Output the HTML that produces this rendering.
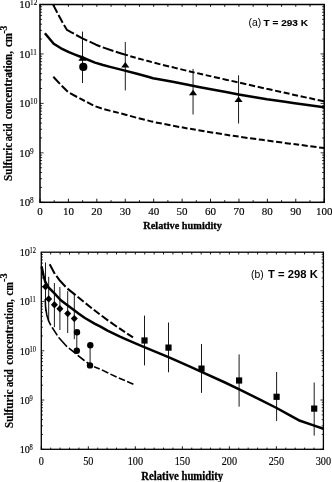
<!DOCTYPE html>
<html><head><meta charset="utf-8"><title>Figure</title>
<style>html,body{margin:0;padding:0;background:#fff}svg{display:block}</style></head>
<body>
<svg width="332" height="482" viewBox="0 0 332 482">
<rect width="332" height="482" fill="#fff"/>
<rect x="40" y="4.5" width="284.2" height="197.8" fill="none" stroke="#000" stroke-width="1.5"/>
<line x1="40.00" y1="202.3" x2="40.00" y2="198.70000000000002" stroke="#000" stroke-width="0.9"/>
<line x1="40.00" y1="4.5" x2="40.00" y2="6.8" stroke="#000" stroke-width="0.9"/>
<line x1="54.21" y1="202.3" x2="54.21" y2="200.20000000000002" stroke="#000" stroke-width="0.9"/>
<line x1="54.21" y1="4.5" x2="54.21" y2="6.8" stroke="#000" stroke-width="0.9"/>
<line x1="68.42" y1="202.3" x2="68.42" y2="198.70000000000002" stroke="#000" stroke-width="0.9"/>
<line x1="68.42" y1="4.5" x2="68.42" y2="6.8" stroke="#000" stroke-width="0.9"/>
<line x1="82.63" y1="202.3" x2="82.63" y2="200.20000000000002" stroke="#000" stroke-width="0.9"/>
<line x1="82.63" y1="4.5" x2="82.63" y2="6.8" stroke="#000" stroke-width="0.9"/>
<line x1="96.84" y1="202.3" x2="96.84" y2="198.70000000000002" stroke="#000" stroke-width="0.9"/>
<line x1="96.84" y1="4.5" x2="96.84" y2="6.8" stroke="#000" stroke-width="0.9"/>
<line x1="111.05" y1="202.3" x2="111.05" y2="200.20000000000002" stroke="#000" stroke-width="0.9"/>
<line x1="111.05" y1="4.5" x2="111.05" y2="6.8" stroke="#000" stroke-width="0.9"/>
<line x1="125.26" y1="202.3" x2="125.26" y2="198.70000000000002" stroke="#000" stroke-width="0.9"/>
<line x1="125.26" y1="4.5" x2="125.26" y2="6.8" stroke="#000" stroke-width="0.9"/>
<line x1="139.47" y1="202.3" x2="139.47" y2="200.20000000000002" stroke="#000" stroke-width="0.9"/>
<line x1="139.47" y1="4.5" x2="139.47" y2="6.8" stroke="#000" stroke-width="0.9"/>
<line x1="153.68" y1="202.3" x2="153.68" y2="198.70000000000002" stroke="#000" stroke-width="0.9"/>
<line x1="153.68" y1="4.5" x2="153.68" y2="6.8" stroke="#000" stroke-width="0.9"/>
<line x1="167.89" y1="202.3" x2="167.89" y2="200.20000000000002" stroke="#000" stroke-width="0.9"/>
<line x1="167.89" y1="4.5" x2="167.89" y2="6.8" stroke="#000" stroke-width="0.9"/>
<line x1="182.10" y1="202.3" x2="182.10" y2="198.70000000000002" stroke="#000" stroke-width="0.9"/>
<line x1="182.10" y1="4.5" x2="182.10" y2="6.8" stroke="#000" stroke-width="0.9"/>
<line x1="196.31" y1="202.3" x2="196.31" y2="200.20000000000002" stroke="#000" stroke-width="0.9"/>
<line x1="196.31" y1="4.5" x2="196.31" y2="6.8" stroke="#000" stroke-width="0.9"/>
<line x1="210.52" y1="202.3" x2="210.52" y2="198.70000000000002" stroke="#000" stroke-width="0.9"/>
<line x1="210.52" y1="4.5" x2="210.52" y2="6.8" stroke="#000" stroke-width="0.9"/>
<line x1="224.73" y1="202.3" x2="224.73" y2="200.20000000000002" stroke="#000" stroke-width="0.9"/>
<line x1="224.73" y1="4.5" x2="224.73" y2="6.8" stroke="#000" stroke-width="0.9"/>
<line x1="238.94" y1="202.3" x2="238.94" y2="198.70000000000002" stroke="#000" stroke-width="0.9"/>
<line x1="238.94" y1="4.5" x2="238.94" y2="6.8" stroke="#000" stroke-width="0.9"/>
<line x1="253.15" y1="202.3" x2="253.15" y2="200.20000000000002" stroke="#000" stroke-width="0.9"/>
<line x1="253.15" y1="4.5" x2="253.15" y2="6.8" stroke="#000" stroke-width="0.9"/>
<line x1="267.36" y1="202.3" x2="267.36" y2="198.70000000000002" stroke="#000" stroke-width="0.9"/>
<line x1="267.36" y1="4.5" x2="267.36" y2="6.8" stroke="#000" stroke-width="0.9"/>
<line x1="281.57" y1="202.3" x2="281.57" y2="200.20000000000002" stroke="#000" stroke-width="0.9"/>
<line x1="281.57" y1="4.5" x2="281.57" y2="6.8" stroke="#000" stroke-width="0.9"/>
<line x1="295.78" y1="202.3" x2="295.78" y2="198.70000000000002" stroke="#000" stroke-width="0.9"/>
<line x1="295.78" y1="4.5" x2="295.78" y2="6.8" stroke="#000" stroke-width="0.9"/>
<line x1="309.99" y1="202.3" x2="309.99" y2="200.20000000000002" stroke="#000" stroke-width="0.9"/>
<line x1="309.99" y1="4.5" x2="309.99" y2="6.8" stroke="#000" stroke-width="0.9"/>
<line x1="324.20" y1="202.3" x2="324.20" y2="198.70000000000002" stroke="#000" stroke-width="0.9"/>
<line x1="324.20" y1="4.5" x2="324.20" y2="6.8" stroke="#000" stroke-width="0.9"/>
<text transform="translate(40.00,215.0) scale(1.0,1)" font-family='"Liberation Serif", serif' font-size="11" text-anchor="middle" stroke="#000" stroke-width="0.15">0</text>
<text transform="translate(68.42,215.0) scale(1.0,1)" font-family='"Liberation Serif", serif' font-size="11" text-anchor="middle" stroke="#000" stroke-width="0.15">10</text>
<text transform="translate(96.84,215.0) scale(1.0,1)" font-family='"Liberation Serif", serif' font-size="11" text-anchor="middle" stroke="#000" stroke-width="0.15">20</text>
<text transform="translate(125.26,215.0) scale(1.0,1)" font-family='"Liberation Serif", serif' font-size="11" text-anchor="middle" stroke="#000" stroke-width="0.15">30</text>
<text transform="translate(153.68,215.0) scale(1.0,1)" font-family='"Liberation Serif", serif' font-size="11" text-anchor="middle" stroke="#000" stroke-width="0.15">40</text>
<text transform="translate(182.10,215.0) scale(1.0,1)" font-family='"Liberation Serif", serif' font-size="11" text-anchor="middle" stroke="#000" stroke-width="0.15">50</text>
<text transform="translate(210.52,215.0) scale(1.0,1)" font-family='"Liberation Serif", serif' font-size="11" text-anchor="middle" stroke="#000" stroke-width="0.15">60</text>
<text transform="translate(238.94,215.0) scale(1.0,1)" font-family='"Liberation Serif", serif' font-size="11" text-anchor="middle" stroke="#000" stroke-width="0.15">70</text>
<text transform="translate(267.36,215.0) scale(1.0,1)" font-family='"Liberation Serif", serif' font-size="11" text-anchor="middle" stroke="#000" stroke-width="0.15">80</text>
<text transform="translate(295.78,215.0) scale(1.0,1)" font-family='"Liberation Serif", serif' font-size="11" text-anchor="middle" stroke="#000" stroke-width="0.15">90</text>
<text transform="translate(324.20,215.0) scale(1.0,1)" font-family='"Liberation Serif", serif' font-size="11" text-anchor="middle" stroke="#000" stroke-width="0.15">100</text>
<line x1="40" y1="202.30" x2="43.6" y2="202.30" stroke="#000" stroke-width="0.8"/>
<line x1="324.2" y1="202.30" x2="320.59999999999997" y2="202.30" stroke="#000" stroke-width="0.8"/>
<line x1="40" y1="187.41" x2="42.1" y2="187.41" stroke="#000" stroke-width="0.8"/>
<line x1="324.2" y1="187.41" x2="322.09999999999997" y2="187.41" stroke="#000" stroke-width="0.8"/>
<line x1="40" y1="178.71" x2="42.1" y2="178.71" stroke="#000" stroke-width="0.8"/>
<line x1="324.2" y1="178.71" x2="322.09999999999997" y2="178.71" stroke="#000" stroke-width="0.8"/>
<line x1="40" y1="172.53" x2="42.1" y2="172.53" stroke="#000" stroke-width="0.8"/>
<line x1="324.2" y1="172.53" x2="322.09999999999997" y2="172.53" stroke="#000" stroke-width="0.8"/>
<line x1="40" y1="167.74" x2="42.1" y2="167.74" stroke="#000" stroke-width="0.8"/>
<line x1="324.2" y1="167.74" x2="322.09999999999997" y2="167.74" stroke="#000" stroke-width="0.8"/>
<line x1="40" y1="163.82" x2="42.1" y2="163.82" stroke="#000" stroke-width="0.8"/>
<line x1="324.2" y1="163.82" x2="322.09999999999997" y2="163.82" stroke="#000" stroke-width="0.8"/>
<line x1="40" y1="160.51" x2="42.1" y2="160.51" stroke="#000" stroke-width="0.8"/>
<line x1="324.2" y1="160.51" x2="322.09999999999997" y2="160.51" stroke="#000" stroke-width="0.8"/>
<line x1="40" y1="157.64" x2="42.1" y2="157.64" stroke="#000" stroke-width="0.8"/>
<line x1="324.2" y1="157.64" x2="322.09999999999997" y2="157.64" stroke="#000" stroke-width="0.8"/>
<line x1="40" y1="155.11" x2="42.1" y2="155.11" stroke="#000" stroke-width="0.8"/>
<line x1="324.2" y1="155.11" x2="322.09999999999997" y2="155.11" stroke="#000" stroke-width="0.8"/>
<line x1="40" y1="152.85" x2="43.6" y2="152.85" stroke="#000" stroke-width="0.8"/>
<line x1="324.2" y1="152.85" x2="320.59999999999997" y2="152.85" stroke="#000" stroke-width="0.8"/>
<line x1="40" y1="137.96" x2="42.1" y2="137.96" stroke="#000" stroke-width="0.8"/>
<line x1="324.2" y1="137.96" x2="322.09999999999997" y2="137.96" stroke="#000" stroke-width="0.8"/>
<line x1="40" y1="129.26" x2="42.1" y2="129.26" stroke="#000" stroke-width="0.8"/>
<line x1="324.2" y1="129.26" x2="322.09999999999997" y2="129.26" stroke="#000" stroke-width="0.8"/>
<line x1="40" y1="123.08" x2="42.1" y2="123.08" stroke="#000" stroke-width="0.8"/>
<line x1="324.2" y1="123.08" x2="322.09999999999997" y2="123.08" stroke="#000" stroke-width="0.8"/>
<line x1="40" y1="118.29" x2="42.1" y2="118.29" stroke="#000" stroke-width="0.8"/>
<line x1="324.2" y1="118.29" x2="322.09999999999997" y2="118.29" stroke="#000" stroke-width="0.8"/>
<line x1="40" y1="114.37" x2="42.1" y2="114.37" stroke="#000" stroke-width="0.8"/>
<line x1="324.2" y1="114.37" x2="322.09999999999997" y2="114.37" stroke="#000" stroke-width="0.8"/>
<line x1="40" y1="111.06" x2="42.1" y2="111.06" stroke="#000" stroke-width="0.8"/>
<line x1="324.2" y1="111.06" x2="322.09999999999997" y2="111.06" stroke="#000" stroke-width="0.8"/>
<line x1="40" y1="108.19" x2="42.1" y2="108.19" stroke="#000" stroke-width="0.8"/>
<line x1="324.2" y1="108.19" x2="322.09999999999997" y2="108.19" stroke="#000" stroke-width="0.8"/>
<line x1="40" y1="105.66" x2="42.1" y2="105.66" stroke="#000" stroke-width="0.8"/>
<line x1="324.2" y1="105.66" x2="322.09999999999997" y2="105.66" stroke="#000" stroke-width="0.8"/>
<line x1="40" y1="103.40" x2="43.6" y2="103.40" stroke="#000" stroke-width="0.8"/>
<line x1="324.2" y1="103.40" x2="320.59999999999997" y2="103.40" stroke="#000" stroke-width="0.8"/>
<line x1="40" y1="88.51" x2="42.1" y2="88.51" stroke="#000" stroke-width="0.8"/>
<line x1="324.2" y1="88.51" x2="322.09999999999997" y2="88.51" stroke="#000" stroke-width="0.8"/>
<line x1="40" y1="79.81" x2="42.1" y2="79.81" stroke="#000" stroke-width="0.8"/>
<line x1="324.2" y1="79.81" x2="322.09999999999997" y2="79.81" stroke="#000" stroke-width="0.8"/>
<line x1="40" y1="73.63" x2="42.1" y2="73.63" stroke="#000" stroke-width="0.8"/>
<line x1="324.2" y1="73.63" x2="322.09999999999997" y2="73.63" stroke="#000" stroke-width="0.8"/>
<line x1="40" y1="68.84" x2="42.1" y2="68.84" stroke="#000" stroke-width="0.8"/>
<line x1="324.2" y1="68.84" x2="322.09999999999997" y2="68.84" stroke="#000" stroke-width="0.8"/>
<line x1="40" y1="64.92" x2="42.1" y2="64.92" stroke="#000" stroke-width="0.8"/>
<line x1="324.2" y1="64.92" x2="322.09999999999997" y2="64.92" stroke="#000" stroke-width="0.8"/>
<line x1="40" y1="61.61" x2="42.1" y2="61.61" stroke="#000" stroke-width="0.8"/>
<line x1="324.2" y1="61.61" x2="322.09999999999997" y2="61.61" stroke="#000" stroke-width="0.8"/>
<line x1="40" y1="58.74" x2="42.1" y2="58.74" stroke="#000" stroke-width="0.8"/>
<line x1="324.2" y1="58.74" x2="322.09999999999997" y2="58.74" stroke="#000" stroke-width="0.8"/>
<line x1="40" y1="56.21" x2="42.1" y2="56.21" stroke="#000" stroke-width="0.8"/>
<line x1="324.2" y1="56.21" x2="322.09999999999997" y2="56.21" stroke="#000" stroke-width="0.8"/>
<line x1="40" y1="53.95" x2="43.6" y2="53.95" stroke="#000" stroke-width="0.8"/>
<line x1="324.2" y1="53.95" x2="320.59999999999997" y2="53.95" stroke="#000" stroke-width="0.8"/>
<line x1="40" y1="39.06" x2="42.1" y2="39.06" stroke="#000" stroke-width="0.8"/>
<line x1="324.2" y1="39.06" x2="322.09999999999997" y2="39.06" stroke="#000" stroke-width="0.8"/>
<line x1="40" y1="30.36" x2="42.1" y2="30.36" stroke="#000" stroke-width="0.8"/>
<line x1="324.2" y1="30.36" x2="322.09999999999997" y2="30.36" stroke="#000" stroke-width="0.8"/>
<line x1="40" y1="24.18" x2="42.1" y2="24.18" stroke="#000" stroke-width="0.8"/>
<line x1="324.2" y1="24.18" x2="322.09999999999997" y2="24.18" stroke="#000" stroke-width="0.8"/>
<line x1="40" y1="19.39" x2="42.1" y2="19.39" stroke="#000" stroke-width="0.8"/>
<line x1="324.2" y1="19.39" x2="322.09999999999997" y2="19.39" stroke="#000" stroke-width="0.8"/>
<line x1="40" y1="15.47" x2="42.1" y2="15.47" stroke="#000" stroke-width="0.8"/>
<line x1="324.2" y1="15.47" x2="322.09999999999997" y2="15.47" stroke="#000" stroke-width="0.8"/>
<line x1="40" y1="12.16" x2="42.1" y2="12.16" stroke="#000" stroke-width="0.8"/>
<line x1="324.2" y1="12.16" x2="322.09999999999997" y2="12.16" stroke="#000" stroke-width="0.8"/>
<line x1="40" y1="9.29" x2="42.1" y2="9.29" stroke="#000" stroke-width="0.8"/>
<line x1="324.2" y1="9.29" x2="322.09999999999997" y2="9.29" stroke="#000" stroke-width="0.8"/>
<line x1="40" y1="6.76" x2="42.1" y2="6.76" stroke="#000" stroke-width="0.8"/>
<line x1="324.2" y1="6.76" x2="322.09999999999997" y2="6.76" stroke="#000" stroke-width="0.8"/>
<text transform="translate(30.3,206.00) scale(1.0,1)" font-family='"Liberation Serif", serif' font-size="11" text-anchor="end" stroke="#000" stroke-width="0.15">10</text>
<text transform="translate(30.0,203.25) scale(1.0,1)" font-family='"Liberation Serif", serif' font-size="7.26" text-anchor="start" stroke="#000" stroke-width="0.1">8</text>
<text transform="translate(30.3,156.55) scale(1.0,1)" font-family='"Liberation Serif", serif' font-size="11" text-anchor="end" stroke="#000" stroke-width="0.15">10</text>
<text transform="translate(30.0,153.80) scale(1.0,1)" font-family='"Liberation Serif", serif' font-size="7.26" text-anchor="start" stroke="#000" stroke-width="0.1">9</text>
<text transform="translate(30.3,107.10) scale(1.0,1)" font-family='"Liberation Serif", serif' font-size="11" text-anchor="end" stroke="#000" stroke-width="0.15">10</text>
<text transform="translate(30.0,104.35) scale(1.0,1)" font-family='"Liberation Serif", serif' font-size="7.26" text-anchor="start" stroke="#000" stroke-width="0.1">10</text>
<text transform="translate(30.3,57.65) scale(1.0,1)" font-family='"Liberation Serif", serif' font-size="11" text-anchor="end" stroke="#000" stroke-width="0.15">10</text>
<text transform="translate(30.0,54.90) scale(1.0,1)" font-family='"Liberation Serif", serif' font-size="7.26" text-anchor="start" stroke="#000" stroke-width="0.1">11</text>
<text transform="translate(30.3,8.20) scale(1.0,1)" font-family='"Liberation Serif", serif' font-size="11" text-anchor="end" stroke="#000" stroke-width="0.15">10</text>
<text transform="translate(30.0,5.45) scale(1.0,1)" font-family='"Liberation Serif", serif' font-size="7.26" text-anchor="start" stroke="#000" stroke-width="0.1">12</text>
<path d="M53.1,4.6 L57.3,12.7 M58.5,15.0 L62.7,22.8 M64.0,25.0 L67.0,29.9 L70.5,31.9 L73.9,33.7 M76.1,35.0 L82.4,38.3 L87.2,40.6 M89.6,41.7 L96.0,44.7 L100.4,46.5 M102.8,47.4 L113.4,51.0 M115.8,51.8 L122.0,53.7 L127.9,55.4 M130.3,56.2 L135.7,57.8 M138.2,58.5 L143.7,59.9 M146.3,60.6 L148.0,61.0 L151.9,62.1 M154.5,62.8 L160.4,64.4 M163.0,65.0 L169.1,66.5 M171.7,67.1 L174.0,67.6 L177.7,68.5 M180.3,69.1 L186.3,70.6 M188.9,71.2 L194.6,72.6 M197.2,73.1 L200.0,73.8 L203.1,74.5 M205.7,75.1 L211.3,76.4 M213.9,77.0 L219.9,78.3 M222.5,78.9 L226.0,79.7 L228.9,80.4 M231.5,80.9 L237.5,82.3 M240.1,82.8 L246.3,84.2 M248.9,84.8 L252.0,85.5 L255.1,86.2 M257.7,86.8 L263.8,88.2 M266.4,88.7 L268.0,89.1 L272.5,90.1 M275.1,90.6 L281.1,92.0 M283.7,92.5 L285.0,92.8 L289.5,93.8 M292.1,94.4 L298.0,95.7 M300.6,96.2 L306.7,97.6 M309.3,98.1 L315.1,99.4 M317.7,99.9 L324.1,101.3" fill="none" stroke="#000" stroke-width="2.0" stroke-linejoin="round" stroke-linecap="butt"/>
<path d="M53.3,76.8 L59.9,83.9 M61.7,85.8 L67.8,91.8 M70.0,93.1 L77.1,97.0 M79.4,98.2 L84.8,101.0 M87.1,102.2 L93.2,105.4 M95.5,106.4 L101.8,108.5 M104.3,109.2 L110.5,110.9 M113.1,111.5 L118.7,112.9 M121.3,113.5 L127.4,115.2 M130.0,115.9 L136.1,117.6 M138.7,118.2 L144.8,119.8 M147.4,120.4 L152.0,121.6 L153.2,121.8 M155.8,122.4 L161.8,123.6 M164.4,124.1 L170.5,125.3 M173.1,125.8 L179.2,126.9 M181.8,127.3 L187.5,128.4 M190.1,128.8 L195.8,129.8 M198.4,130.2 L204.5,131.3 M207.1,131.7 L213.2,132.7 M215.8,133.1 L221.9,134.1 M224.5,134.5 L225.0,134.6 L230.2,135.4 M232.8,135.8 L238.6,136.6 M241.2,137.0 L243.0,137.3 L247.5,137.9 M250.1,138.2 L256.2,139.0 M258.8,139.4 L262.0,139.8 L264.8,140.2 M267.4,140.5 L273.5,141.4 M276.1,141.8 L282.2,142.6 M284.8,143.0 L288.0,143.4 L290.9,143.8 M293.5,144.1 L299.1,144.8 M301.7,145.1 L307.7,145.9 M310.3,146.2 L316.5,147.0 M319.1,147.4 L324.1,148.0" fill="none" stroke="#000" stroke-width="2.0" stroke-linejoin="round" stroke-linecap="butt"/>
<path d="M44.9,33.2 L53.7,43.8 L61.0,48.3 L68.9,52.2 L75.0,54.6 L82.5,57.5 L95.0,62.6 L103.0,65.0 L111.0,67.1 L122.0,69.9 L137.0,73.7 L148.0,76.7 L153.0,78.2 L163.0,79.9 L174.0,82.1 L189.0,85.1 L200.0,87.2 L215.0,89.9 L226.0,92.0 L238.6,94.4 L252.0,96.7 L267.0,99.3 L285.0,101.8 L293.0,103.0 L324.1,107.3" fill="none" stroke="#000" stroke-width="2.5" stroke-linejoin="round"/>
<line x1="82.5" y1="31.6" x2="82.5" y2="83" stroke="#000" stroke-width="0.9"/>
<line x1="125.3" y1="42" x2="125.3" y2="90.4" stroke="#000" stroke-width="0.9"/>
<line x1="193.05" y1="68.9" x2="193.05" y2="114.5" stroke="#000" stroke-width="0.9"/>
<line x1="238.55" y1="75.3" x2="238.55" y2="123.5" stroke="#000" stroke-width="0.9"/>
<polygon points="82.5,55.1 86.6,60.7 78.4,60.7" fill="#000"/>
<polygon points="125.3,61.900000000000006 129.4,67.5 121.2,67.5" fill="#000"/>
<polygon points="193.05,89.7 197.15,95.3 188.95000000000002,95.3" fill="#000"/>
<polygon points="238.55,96.4 242.65,102.0 234.45000000000002,102.0" fill="#000"/>
<circle cx="83.3" cy="66.9" r="4.1" fill="#000"/>
<text transform="translate(12.2,180.9) rotate(-90)" font-family='"Liberation Serif", serif' font-weight="bold" font-size="12.3" textLength="38.1" lengthAdjust="spacingAndGlyphs" stroke="#000" stroke-width="0.2">Sulfuric</text>
<text transform="translate(12.2,141.3) rotate(-90)" font-family='"Liberation Serif", serif' font-weight="bold" font-size="12.3" textLength="17.8" lengthAdjust="spacingAndGlyphs" stroke="#000" stroke-width="0.2">acid</text>
<text transform="translate(12.2,119.3) rotate(-90)" font-family='"Liberation Serif", serif' font-weight="bold" font-size="12.3" textLength="68.4" lengthAdjust="spacingAndGlyphs" stroke="#000" stroke-width="0.2">concentration,</text>
<text transform="translate(12.2,47.1) rotate(-90)" font-family='"Liberation Serif", serif' font-weight="bold" font-size="12.3" textLength="13.9" lengthAdjust="spacingAndGlyphs" stroke="#000" stroke-width="0.2">cm</text>
<text transform="translate(6.699999999999999,33.6) rotate(-90)" font-family='"Liberation Serif", serif' font-weight="bold" font-size="9.3" textLength="7.9" lengthAdjust="spacingAndGlyphs" stroke="#000" stroke-width="0.2">-3</text>
<text x="182.6" y="228.5" font-family='"Liberation Serif", serif' font-weight="bold" font-size="10.9" text-anchor="middle" textLength="78.6" lengthAdjust="spacingAndGlyphs" stroke="#000" stroke-width="0.3">Relative humidity</text>
<text x="248.6" y="26.0" font-family='"Liberation Sans", sans-serif' font-size="10.3">(a)</text>
<text x="263.6" y="26.0" font-family='"Liberation Sans", sans-serif' font-weight="bold" font-size="9.4" textLength="44.3" lengthAdjust="spacingAndGlyphs" stroke="#000" stroke-width="0.12">T = 293 K</text>
<rect x="41.3" y="252.2" width="282.09999999999997" height="197.10000000000002" fill="none" stroke="#000" stroke-width="1.3"/>
<line x1="41.30" y1="449.3" x2="41.30" y2="446.3" stroke="#000" stroke-width="0.9"/>
<line x1="41.30" y1="252.2" x2="41.30" y2="254.5" stroke="#000" stroke-width="0.9"/>
<line x1="50.70" y1="449.3" x2="50.70" y2="447.6" stroke="#000" stroke-width="0.9"/>
<line x1="50.70" y1="252.2" x2="50.70" y2="254.5" stroke="#000" stroke-width="0.9"/>
<line x1="60.11" y1="449.3" x2="60.11" y2="447.6" stroke="#000" stroke-width="0.9"/>
<line x1="60.11" y1="252.2" x2="60.11" y2="254.5" stroke="#000" stroke-width="0.9"/>
<line x1="69.51" y1="449.3" x2="69.51" y2="447.6" stroke="#000" stroke-width="0.9"/>
<line x1="69.51" y1="252.2" x2="69.51" y2="254.5" stroke="#000" stroke-width="0.9"/>
<line x1="78.91" y1="449.3" x2="78.91" y2="447.6" stroke="#000" stroke-width="0.9"/>
<line x1="78.91" y1="252.2" x2="78.91" y2="254.5" stroke="#000" stroke-width="0.9"/>
<line x1="88.32" y1="449.3" x2="88.32" y2="446.3" stroke="#000" stroke-width="0.9"/>
<line x1="88.32" y1="252.2" x2="88.32" y2="254.5" stroke="#000" stroke-width="0.9"/>
<line x1="97.72" y1="449.3" x2="97.72" y2="447.6" stroke="#000" stroke-width="0.9"/>
<line x1="97.72" y1="252.2" x2="97.72" y2="254.5" stroke="#000" stroke-width="0.9"/>
<line x1="107.12" y1="449.3" x2="107.12" y2="447.6" stroke="#000" stroke-width="0.9"/>
<line x1="107.12" y1="252.2" x2="107.12" y2="254.5" stroke="#000" stroke-width="0.9"/>
<line x1="116.53" y1="449.3" x2="116.53" y2="447.6" stroke="#000" stroke-width="0.9"/>
<line x1="116.53" y1="252.2" x2="116.53" y2="254.5" stroke="#000" stroke-width="0.9"/>
<line x1="125.93" y1="449.3" x2="125.93" y2="447.6" stroke="#000" stroke-width="0.9"/>
<line x1="125.93" y1="252.2" x2="125.93" y2="254.5" stroke="#000" stroke-width="0.9"/>
<line x1="135.33" y1="449.3" x2="135.33" y2="446.3" stroke="#000" stroke-width="0.9"/>
<line x1="135.33" y1="252.2" x2="135.33" y2="254.5" stroke="#000" stroke-width="0.9"/>
<line x1="144.74" y1="449.3" x2="144.74" y2="447.6" stroke="#000" stroke-width="0.9"/>
<line x1="144.74" y1="252.2" x2="144.74" y2="254.5" stroke="#000" stroke-width="0.9"/>
<line x1="154.14" y1="449.3" x2="154.14" y2="447.6" stroke="#000" stroke-width="0.9"/>
<line x1="154.14" y1="252.2" x2="154.14" y2="254.5" stroke="#000" stroke-width="0.9"/>
<line x1="163.54" y1="449.3" x2="163.54" y2="447.6" stroke="#000" stroke-width="0.9"/>
<line x1="163.54" y1="252.2" x2="163.54" y2="254.5" stroke="#000" stroke-width="0.9"/>
<line x1="172.95" y1="449.3" x2="172.95" y2="447.6" stroke="#000" stroke-width="0.9"/>
<line x1="172.95" y1="252.2" x2="172.95" y2="254.5" stroke="#000" stroke-width="0.9"/>
<line x1="182.35" y1="449.3" x2="182.35" y2="446.3" stroke="#000" stroke-width="0.9"/>
<line x1="182.35" y1="252.2" x2="182.35" y2="254.5" stroke="#000" stroke-width="0.9"/>
<line x1="191.75" y1="449.3" x2="191.75" y2="447.6" stroke="#000" stroke-width="0.9"/>
<line x1="191.75" y1="252.2" x2="191.75" y2="254.5" stroke="#000" stroke-width="0.9"/>
<line x1="201.16" y1="449.3" x2="201.16" y2="447.6" stroke="#000" stroke-width="0.9"/>
<line x1="201.16" y1="252.2" x2="201.16" y2="254.5" stroke="#000" stroke-width="0.9"/>
<line x1="210.56" y1="449.3" x2="210.56" y2="447.6" stroke="#000" stroke-width="0.9"/>
<line x1="210.56" y1="252.2" x2="210.56" y2="254.5" stroke="#000" stroke-width="0.9"/>
<line x1="219.96" y1="449.3" x2="219.96" y2="447.6" stroke="#000" stroke-width="0.9"/>
<line x1="219.96" y1="252.2" x2="219.96" y2="254.5" stroke="#000" stroke-width="0.9"/>
<line x1="229.37" y1="449.3" x2="229.37" y2="446.3" stroke="#000" stroke-width="0.9"/>
<line x1="229.37" y1="252.2" x2="229.37" y2="254.5" stroke="#000" stroke-width="0.9"/>
<line x1="238.77" y1="449.3" x2="238.77" y2="447.6" stroke="#000" stroke-width="0.9"/>
<line x1="238.77" y1="252.2" x2="238.77" y2="254.5" stroke="#000" stroke-width="0.9"/>
<line x1="248.17" y1="449.3" x2="248.17" y2="447.6" stroke="#000" stroke-width="0.9"/>
<line x1="248.17" y1="252.2" x2="248.17" y2="254.5" stroke="#000" stroke-width="0.9"/>
<line x1="257.58" y1="449.3" x2="257.58" y2="447.6" stroke="#000" stroke-width="0.9"/>
<line x1="257.58" y1="252.2" x2="257.58" y2="254.5" stroke="#000" stroke-width="0.9"/>
<line x1="266.98" y1="449.3" x2="266.98" y2="447.6" stroke="#000" stroke-width="0.9"/>
<line x1="266.98" y1="252.2" x2="266.98" y2="254.5" stroke="#000" stroke-width="0.9"/>
<line x1="276.38" y1="449.3" x2="276.38" y2="446.3" stroke="#000" stroke-width="0.9"/>
<line x1="276.38" y1="252.2" x2="276.38" y2="254.5" stroke="#000" stroke-width="0.9"/>
<line x1="285.79" y1="449.3" x2="285.79" y2="447.6" stroke="#000" stroke-width="0.9"/>
<line x1="285.79" y1="252.2" x2="285.79" y2="254.5" stroke="#000" stroke-width="0.9"/>
<line x1="295.19" y1="449.3" x2="295.19" y2="447.6" stroke="#000" stroke-width="0.9"/>
<line x1="295.19" y1="252.2" x2="295.19" y2="254.5" stroke="#000" stroke-width="0.9"/>
<line x1="304.59" y1="449.3" x2="304.59" y2="447.6" stroke="#000" stroke-width="0.9"/>
<line x1="304.59" y1="252.2" x2="304.59" y2="254.5" stroke="#000" stroke-width="0.9"/>
<line x1="314.00" y1="449.3" x2="314.00" y2="447.6" stroke="#000" stroke-width="0.9"/>
<line x1="314.00" y1="252.2" x2="314.00" y2="254.5" stroke="#000" stroke-width="0.9"/>
<line x1="323.40" y1="449.3" x2="323.40" y2="446.3" stroke="#000" stroke-width="0.9"/>
<line x1="323.40" y1="252.2" x2="323.40" y2="254.5" stroke="#000" stroke-width="0.9"/>
<text transform="translate(41.30,465.0) scale(0.89,1)" font-family='"Liberation Serif", serif' font-size="11.5" text-anchor="middle" stroke="#000" stroke-width="0.15">0</text>
<text transform="translate(88.32,465.0) scale(0.89,1)" font-family='"Liberation Serif", serif' font-size="11.5" text-anchor="middle" stroke="#000" stroke-width="0.15">50</text>
<text transform="translate(135.33,465.0) scale(0.89,1)" font-family='"Liberation Serif", serif' font-size="11.5" text-anchor="middle" stroke="#000" stroke-width="0.15">100</text>
<text transform="translate(182.35,465.0) scale(0.89,1)" font-family='"Liberation Serif", serif' font-size="11.5" text-anchor="middle" stroke="#000" stroke-width="0.15">150</text>
<text transform="translate(229.37,465.0) scale(0.89,1)" font-family='"Liberation Serif", serif' font-size="11.5" text-anchor="middle" stroke="#000" stroke-width="0.15">200</text>
<text transform="translate(276.38,465.0) scale(0.89,1)" font-family='"Liberation Serif", serif' font-size="11.5" text-anchor="middle" stroke="#000" stroke-width="0.15">250</text>
<text transform="translate(323.40,465.0) scale(0.89,1)" font-family='"Liberation Serif", serif' font-size="11.5" text-anchor="middle" stroke="#000" stroke-width="0.15">300</text>
<line x1="41.3" y1="449.30" x2="44.3" y2="449.30" stroke="#000" stroke-width="0.8"/>
<line x1="323.4" y1="449.30" x2="320.4" y2="449.30" stroke="#000" stroke-width="0.8"/>
<line x1="41.3" y1="434.47" x2="43.0" y2="434.47" stroke="#000" stroke-width="0.8"/>
<line x1="323.4" y1="434.47" x2="321.7" y2="434.47" stroke="#000" stroke-width="0.8"/>
<line x1="41.3" y1="425.79" x2="43.0" y2="425.79" stroke="#000" stroke-width="0.8"/>
<line x1="323.4" y1="425.79" x2="321.7" y2="425.79" stroke="#000" stroke-width="0.8"/>
<line x1="41.3" y1="419.63" x2="43.0" y2="419.63" stroke="#000" stroke-width="0.8"/>
<line x1="323.4" y1="419.63" x2="321.7" y2="419.63" stroke="#000" stroke-width="0.8"/>
<line x1="41.3" y1="414.86" x2="43.0" y2="414.86" stroke="#000" stroke-width="0.8"/>
<line x1="323.4" y1="414.86" x2="321.7" y2="414.86" stroke="#000" stroke-width="0.8"/>
<line x1="41.3" y1="410.96" x2="43.0" y2="410.96" stroke="#000" stroke-width="0.8"/>
<line x1="323.4" y1="410.96" x2="321.7" y2="410.96" stroke="#000" stroke-width="0.8"/>
<line x1="41.3" y1="407.66" x2="43.0" y2="407.66" stroke="#000" stroke-width="0.8"/>
<line x1="323.4" y1="407.66" x2="321.7" y2="407.66" stroke="#000" stroke-width="0.8"/>
<line x1="41.3" y1="404.80" x2="43.0" y2="404.80" stroke="#000" stroke-width="0.8"/>
<line x1="323.4" y1="404.80" x2="321.7" y2="404.80" stroke="#000" stroke-width="0.8"/>
<line x1="41.3" y1="402.28" x2="43.0" y2="402.28" stroke="#000" stroke-width="0.8"/>
<line x1="323.4" y1="402.28" x2="321.7" y2="402.28" stroke="#000" stroke-width="0.8"/>
<line x1="41.3" y1="400.02" x2="44.3" y2="400.02" stroke="#000" stroke-width="0.8"/>
<line x1="323.4" y1="400.02" x2="320.4" y2="400.02" stroke="#000" stroke-width="0.8"/>
<line x1="41.3" y1="385.19" x2="43.0" y2="385.19" stroke="#000" stroke-width="0.8"/>
<line x1="323.4" y1="385.19" x2="321.7" y2="385.19" stroke="#000" stroke-width="0.8"/>
<line x1="41.3" y1="376.51" x2="43.0" y2="376.51" stroke="#000" stroke-width="0.8"/>
<line x1="323.4" y1="376.51" x2="321.7" y2="376.51" stroke="#000" stroke-width="0.8"/>
<line x1="41.3" y1="370.36" x2="43.0" y2="370.36" stroke="#000" stroke-width="0.8"/>
<line x1="323.4" y1="370.36" x2="321.7" y2="370.36" stroke="#000" stroke-width="0.8"/>
<line x1="41.3" y1="365.58" x2="43.0" y2="365.58" stroke="#000" stroke-width="0.8"/>
<line x1="323.4" y1="365.58" x2="321.7" y2="365.58" stroke="#000" stroke-width="0.8"/>
<line x1="41.3" y1="361.68" x2="43.0" y2="361.68" stroke="#000" stroke-width="0.8"/>
<line x1="323.4" y1="361.68" x2="321.7" y2="361.68" stroke="#000" stroke-width="0.8"/>
<line x1="41.3" y1="358.38" x2="43.0" y2="358.38" stroke="#000" stroke-width="0.8"/>
<line x1="323.4" y1="358.38" x2="321.7" y2="358.38" stroke="#000" stroke-width="0.8"/>
<line x1="41.3" y1="355.53" x2="43.0" y2="355.53" stroke="#000" stroke-width="0.8"/>
<line x1="323.4" y1="355.53" x2="321.7" y2="355.53" stroke="#000" stroke-width="0.8"/>
<line x1="41.3" y1="353.00" x2="43.0" y2="353.00" stroke="#000" stroke-width="0.8"/>
<line x1="323.4" y1="353.00" x2="321.7" y2="353.00" stroke="#000" stroke-width="0.8"/>
<line x1="41.3" y1="350.75" x2="44.3" y2="350.75" stroke="#000" stroke-width="0.8"/>
<line x1="323.4" y1="350.75" x2="320.4" y2="350.75" stroke="#000" stroke-width="0.8"/>
<line x1="41.3" y1="335.92" x2="43.0" y2="335.92" stroke="#000" stroke-width="0.8"/>
<line x1="323.4" y1="335.92" x2="321.7" y2="335.92" stroke="#000" stroke-width="0.8"/>
<line x1="41.3" y1="327.24" x2="43.0" y2="327.24" stroke="#000" stroke-width="0.8"/>
<line x1="323.4" y1="327.24" x2="321.7" y2="327.24" stroke="#000" stroke-width="0.8"/>
<line x1="41.3" y1="321.08" x2="43.0" y2="321.08" stroke="#000" stroke-width="0.8"/>
<line x1="323.4" y1="321.08" x2="321.7" y2="321.08" stroke="#000" stroke-width="0.8"/>
<line x1="41.3" y1="316.31" x2="43.0" y2="316.31" stroke="#000" stroke-width="0.8"/>
<line x1="323.4" y1="316.31" x2="321.7" y2="316.31" stroke="#000" stroke-width="0.8"/>
<line x1="41.3" y1="312.41" x2="43.0" y2="312.41" stroke="#000" stroke-width="0.8"/>
<line x1="323.4" y1="312.41" x2="321.7" y2="312.41" stroke="#000" stroke-width="0.8"/>
<line x1="41.3" y1="309.11" x2="43.0" y2="309.11" stroke="#000" stroke-width="0.8"/>
<line x1="323.4" y1="309.11" x2="321.7" y2="309.11" stroke="#000" stroke-width="0.8"/>
<line x1="41.3" y1="306.25" x2="43.0" y2="306.25" stroke="#000" stroke-width="0.8"/>
<line x1="323.4" y1="306.25" x2="321.7" y2="306.25" stroke="#000" stroke-width="0.8"/>
<line x1="41.3" y1="303.73" x2="43.0" y2="303.73" stroke="#000" stroke-width="0.8"/>
<line x1="323.4" y1="303.73" x2="321.7" y2="303.73" stroke="#000" stroke-width="0.8"/>
<line x1="41.3" y1="301.48" x2="44.3" y2="301.48" stroke="#000" stroke-width="0.8"/>
<line x1="323.4" y1="301.48" x2="320.4" y2="301.48" stroke="#000" stroke-width="0.8"/>
<line x1="41.3" y1="286.64" x2="43.0" y2="286.64" stroke="#000" stroke-width="0.8"/>
<line x1="323.4" y1="286.64" x2="321.7" y2="286.64" stroke="#000" stroke-width="0.8"/>
<line x1="41.3" y1="277.96" x2="43.0" y2="277.96" stroke="#000" stroke-width="0.8"/>
<line x1="323.4" y1="277.96" x2="321.7" y2="277.96" stroke="#000" stroke-width="0.8"/>
<line x1="41.3" y1="271.81" x2="43.0" y2="271.81" stroke="#000" stroke-width="0.8"/>
<line x1="323.4" y1="271.81" x2="321.7" y2="271.81" stroke="#000" stroke-width="0.8"/>
<line x1="41.3" y1="267.03" x2="43.0" y2="267.03" stroke="#000" stroke-width="0.8"/>
<line x1="323.4" y1="267.03" x2="321.7" y2="267.03" stroke="#000" stroke-width="0.8"/>
<line x1="41.3" y1="263.13" x2="43.0" y2="263.13" stroke="#000" stroke-width="0.8"/>
<line x1="323.4" y1="263.13" x2="321.7" y2="263.13" stroke="#000" stroke-width="0.8"/>
<line x1="41.3" y1="259.83" x2="43.0" y2="259.83" stroke="#000" stroke-width="0.8"/>
<line x1="323.4" y1="259.83" x2="321.7" y2="259.83" stroke="#000" stroke-width="0.8"/>
<line x1="41.3" y1="256.98" x2="43.0" y2="256.98" stroke="#000" stroke-width="0.8"/>
<line x1="323.4" y1="256.98" x2="321.7" y2="256.98" stroke="#000" stroke-width="0.8"/>
<line x1="41.3" y1="254.45" x2="43.0" y2="254.45" stroke="#000" stroke-width="0.8"/>
<line x1="323.4" y1="254.45" x2="321.7" y2="254.45" stroke="#000" stroke-width="0.8"/>
<text transform="translate(29.9,453.30) scale(0.89,1)" font-family='"Liberation Serif", serif' font-size="11.4" text-anchor="end" stroke="#000" stroke-width="0.15">10</text>
<text transform="translate(29.5,450.10) scale(0.89,1)" font-family='"Liberation Serif", serif' font-size="7.30" text-anchor="start" stroke="#000" stroke-width="0.1">8</text>
<text transform="translate(29.9,404.02) scale(0.89,1)" font-family='"Liberation Serif", serif' font-size="11.4" text-anchor="end" stroke="#000" stroke-width="0.15">10</text>
<text transform="translate(29.5,400.82) scale(0.89,1)" font-family='"Liberation Serif", serif' font-size="7.30" text-anchor="start" stroke="#000" stroke-width="0.1">9</text>
<text transform="translate(29.9,354.75) scale(0.89,1)" font-family='"Liberation Serif", serif' font-size="11.4" text-anchor="end" stroke="#000" stroke-width="0.15">10</text>
<text transform="translate(29.5,351.55) scale(0.89,1)" font-family='"Liberation Serif", serif' font-size="7.30" text-anchor="start" stroke="#000" stroke-width="0.1">10</text>
<text transform="translate(29.9,305.48) scale(0.89,1)" font-family='"Liberation Serif", serif' font-size="11.4" text-anchor="end" stroke="#000" stroke-width="0.15">10</text>
<text transform="translate(29.5,302.28) scale(0.89,1)" font-family='"Liberation Serif", serif' font-size="7.30" text-anchor="start" stroke="#000" stroke-width="0.1">11</text>
<text transform="translate(29.9,256.20) scale(0.89,1)" font-family='"Liberation Serif", serif' font-size="11.4" text-anchor="end" stroke="#000" stroke-width="0.15">10</text>
<text transform="translate(29.5,253.00) scale(0.89,1)" font-family='"Liberation Serif", serif' font-size="7.30" text-anchor="start" stroke="#000" stroke-width="0.1">12</text>
<path d="M49.7,264.3 L54.7,273.7 L54.8,273.9 M56.4,275.9 L60.0,280.8 L65.6,286.8 M67.5,288.6 L75.6,295.1 M77.6,296.7 L83.7,301.8 M85.7,303.4 L91.8,308.2 M93.8,309.8 L99.6,314.3 M101.7,315.8 L108.2,320.6 M110.4,322.1 L116.9,326.8 M119.1,328.2 L125.0,332.2 M127.2,333.6 L133.0,337.3" fill="none" stroke="#000" stroke-width="2.0" stroke-linejoin="round" stroke-linecap="butt"/>
<path d="M45.2,299.0 L45.6,307.5 L46.8,314.9 L48.7,321.2 L50.6,324.9 L50.9,325.3 M52.1,327.4 L52.5,328.0 L57.3,335.4 M58.7,337.4 L58.7,337.5 L66.8,346.5 L67.1,346.7 M68.9,348.2 L74.2,352.3 L75.9,353.7 M77.7,355.3 L78.1,355.6 L84.3,360.5 L84.6,360.7 M86.6,362.2 L89.9,364.6 L91.9,365.7 M94.1,366.8 L99.7,369.0 M101.9,369.9 L108.1,373.0 L108.2,373.1 M110.4,374.1 L116.6,377.0 M118.8,377.9 L124.9,380.5 M127.1,381.5 L133.4,384.2" fill="none" stroke="#000" stroke-width="1.6" stroke-linejoin="round" stroke-linecap="butt"/>
<path d="M41.6,266.5 L42.3,270.0 L43.5,275.5 L45.3,282.0 L48.5,287.3 L54.7,293.6 L60.5,300.0 L67.1,305.0 L72.5,309.0 L78.5,313.5 L84.9,318.0 L95.0,323.8 L101.0,326.9 L107.5,330.7 L120.0,336.6 L125.0,338.8 L136.0,343.6 L144.3,347.1 L160.0,353.7 L168.5,357.2 L190.0,366.7 L201.5,371.8 L225.0,382.5 L239.3,389.3 L260.0,399.7 L276.6,408.0 L290.0,415.4 L300.0,420.8 L314.3,425.6 L323.4,428.8" fill="none" stroke="#000" stroke-width="2.5" stroke-linejoin="round"/>
<line x1="45.5" y1="262.5" x2="45.5" y2="311" stroke="#000" stroke-width="0.9"/>
<polygon points="45.5,283.0 49.0,286.7 45.5,290.4 42.0,286.7" fill="#000"/>
<line x1="48.7" y1="276.8" x2="48.7" y2="320.5" stroke="#000" stroke-width="0.9"/>
<polygon points="48.7,295.2 52.2,298.9 48.7,302.59999999999997 45.2,298.9" fill="#000"/>
<line x1="54.4" y1="283" x2="54.4" y2="327.2" stroke="#000" stroke-width="0.9"/>
<polygon points="54.4,301.0 57.9,304.7 54.4,308.4 50.9,304.7" fill="#000"/>
<line x1="59.9" y1="287" x2="59.9" y2="330" stroke="#000" stroke-width="0.9"/>
<polygon points="59.9,305.1 63.4,308.8 59.9,312.5 56.4,308.8" fill="#000"/>
<line x1="67.7" y1="291.2" x2="67.7" y2="333" stroke="#000" stroke-width="0.9"/>
<polygon points="67.7,309.90000000000003 71.2,313.6 67.7,317.3 64.2,313.6" fill="#000"/>
<line x1="74.3" y1="294.9" x2="74.3" y2="339.2" stroke="#000" stroke-width="0.9"/>
<polygon points="74.3,314.90000000000003 77.8,318.6 74.3,322.3 70.8,318.6" fill="#000"/>
<line x1="76.8" y1="332.2" x2="76.8" y2="350.6" stroke="#000" stroke-width="0.9"/>
<line x1="90.1" y1="345.2" x2="90.1" y2="365.3" stroke="#000" stroke-width="0.9"/>
<circle cx="77.0" cy="332.2" r="3.2" fill="#000"/>
<circle cx="76.8" cy="350.7" r="3.2" fill="#000"/>
<circle cx="90.3" cy="345.2" r="3.2" fill="#000"/>
<circle cx="90.0" cy="365.4" r="3.2" fill="#000"/>
<line x1="144.5" y1="315.6" x2="144.5" y2="365.4" stroke="#000" stroke-width="0.9"/>
<rect x="141.4" y="337.4" width="6.2" height="6.2" fill="#000"/>
<line x1="168.5" y1="322.5" x2="168.5" y2="372.3" stroke="#000" stroke-width="0.9"/>
<rect x="165.4" y="344.5" width="6.2" height="6.2" fill="#000"/>
<line x1="201.5" y1="344" x2="201.5" y2="392.9" stroke="#000" stroke-width="0.9"/>
<rect x="198.4" y="365.5" width="6.2" height="6.2" fill="#000"/>
<line x1="239.1" y1="354.4" x2="239.1" y2="406.7" stroke="#000" stroke-width="0.9"/>
<rect x="236.0" y="377.4" width="6.2" height="6.2" fill="#000"/>
<line x1="276.6" y1="371.9" x2="276.6" y2="421.1" stroke="#000" stroke-width="0.9"/>
<rect x="273.5" y="393.7" width="6.2" height="6.2" fill="#000"/>
<line x1="314.2" y1="382.5" x2="314.2" y2="435.6" stroke="#000" stroke-width="0.9"/>
<rect x="311.09999999999997" y="405.5" width="6.2" height="6.2" fill="#000"/>
<text transform="translate(12.5,428) rotate(-90)" font-family='"Liberation Serif", serif' font-weight="bold" font-size="12.3" textLength="38.6" lengthAdjust="spacingAndGlyphs" stroke="#000" stroke-width="0.2">Sulfuric</text>
<text transform="translate(12.5,387.1) rotate(-90)" font-family='"Liberation Serif", serif' font-weight="bold" font-size="12.3" textLength="18" lengthAdjust="spacingAndGlyphs" stroke="#000" stroke-width="0.2">acid</text>
<text transform="translate(12.5,364.7) rotate(-90)" font-family='"Liberation Serif", serif' font-weight="bold" font-size="12.3" textLength="65.6" lengthAdjust="spacingAndGlyphs" stroke="#000" stroke-width="0.2">concentration,</text>
<text transform="translate(12.5,295.4) rotate(-90)" font-family='"Liberation Serif", serif' font-weight="bold" font-size="12.3" textLength="13.1" lengthAdjust="spacingAndGlyphs" stroke="#000" stroke-width="0.2">cm</text>
<text transform="translate(7.0,281.9) rotate(-90)" font-family='"Liberation Serif", serif' font-weight="bold" font-size="9.3" textLength="8.6" lengthAdjust="spacingAndGlyphs" stroke="#000" stroke-width="0.2">-3</text>
<text x="182.2" y="479.7" font-family='"Liberation Serif", serif' font-weight="bold" font-size="11.6" text-anchor="middle" textLength="81.9" lengthAdjust="spacingAndGlyphs" stroke="#000" stroke-width="0.3">Relative humidity</text>
<text x="251" y="278.2" font-family='"Liberation Sans", sans-serif' font-size="10.3">(b)</text>
<text x="268.1" y="278.2" font-family='"Liberation Sans", sans-serif' font-weight="bold" font-size="10.3" textLength="49.7" lengthAdjust="spacingAndGlyphs">T = 298 K</text>
</svg>
</body></html>
